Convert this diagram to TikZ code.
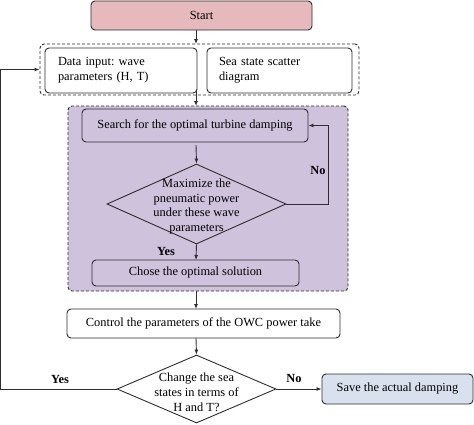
\documentclass[tikz,border=0pt]{standalone}
\usepackage{fontspec}
\setmainfont{Liberation Serif}
\usepackage{tikz}
\usetikzlibrary{arrows.meta}
\usetikzlibrary{shapes}
\frenchspacing
\definecolor{startpink}{HTML}{E6B9BC}
\definecolor{optpurple}{HTML}{CFC2DC}
\definecolor{saveblue}{HTML}{DAE1EE}
\definecolor{linegray}{HTML}{2E2E2E}
\tikzset{
  flowbox/.style={draw=linegray,line width=0.9pt,rounded corners=4pt,inner sep=0pt,
    font=\fontsize{12.4}{14.8}\selectfont},
  groupbox/.style={draw=linegray,line width=0.9pt,rounded corners=4pt,dash pattern=on 3pt off 2pt},
  decision/.style={draw=linegray,line width=0.9pt,shape=diamond,inner sep=0pt},
  flowtext/.style={align=center,inner sep=0pt,font=\fontsize{12.4}{14.8}\selectfont},
  answer/.style={font=\fontsize{12.4}{14.8}\selectfont\bfseries,inner sep=0pt},
  flow/.style={draw=linegray,line width=0.9pt,-{Latex[length=5pt,width=4pt]}}
}
\begin{document}
\begin{tikzpicture}[x=1pt,y=-1pt]
  \useasboundingbox (0,0) rectangle (474,424);
  \node[flowbox,fill=startpink,minimum width=221pt,minimum height=29pt] (start) at (201.5,15.5) {Start};
  \node[groupbox,minimum width=319pt,minimum height=51pt] (input) at (199.5,69.5) {};
  \node[flowbox,minimum width=152pt,minimum height=45pt,text width=126pt,align=left] (data) at (121,70.5)
    {Data input: wave\\parameters (H, T)};
  \node[flowbox,minimum width=145pt,minimum height=45pt,text width=121pt,align=left] (scatter) at (279.5,70.5)
    {Sea state scatter\\diagram};
  \node[groupbox,fill=optpurple,minimum width=280pt,minimum height=185pt] (opt) at (208,198.5) {};
  \node[flowbox,minimum width=226pt,minimum height=33pt] (search) at (195,125.5)
    {Search for the optimal turbine damping};
  \node[decision,minimum width=179pt,minimum height=80pt] (maxpow) at (196.5,204) {};
  \node[flowtext] (maxpowtext) at (196.5,206.5) {Maximize the\\pneumatic power\\under these wave\\parameters};
  \node[flowbox,minimum width=207pt,minimum height=26pt] (chose) at (195.5,273) {Chose the optimal solution};
  \node[flowbox,fill=white,minimum width=273pt,minimum height=29pt] (control) at (203.5,323.5)
    {Control the parameters of the OWC power take};
  \node[decision,minimum width=159pt,minimum height=68pt] (change) at (196.5,389) {};
  \node[flowtext] (changetext) at (196.5,392.5) {Change the sea\\states in terms of\\H and T?};
  \node[flowbox,fill=saveblue,minimum width=151pt,minimum height=30pt] (save) at (397.5,389)
    {Save the actual damping};
  \coordinate (noturn) at (328,204);
  \coordinate (yesturn) at (0.5,389);
  \draw[flow] (196,30) -- (196,44);
  \draw[flow] (196,90) -- (196,106);
  \draw[flow] (196,145) -- (maxpow.north);
  \draw[flow] (maxpow.south) -- (196,260);
  \draw[flow] (196,291) -- (196,309);
  \draw[flow] (196,338) -- (change.north);
  \draw[flow] (change.east) -- (save.west);
  \draw[flow] (maxpow.east) -- (noturn) |- (search.east);
  \draw[flow] (change.west) -- (yesturn) |- (input.west);
  \node[answer] at (318,170) {No};
  \node[answer] at (166,251) {Yes};
  \node[answer] at (60,379) {Yes};
  \node[answer] at (294,378) {No};
\end{tikzpicture}
\end{document}
